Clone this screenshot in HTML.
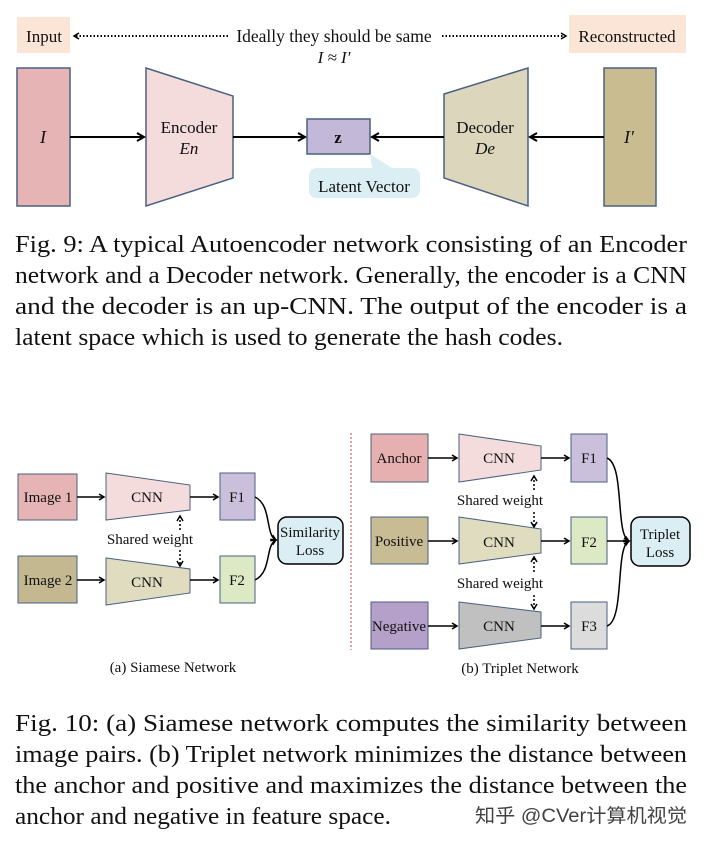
<!DOCTYPE html>
<html><head><meta charset="utf-8"><style>
html,body{margin:0;padding:0;background:#fff;}
svg{display:block}
text{font-family:"Liberation Serif",serif;fill:#111}
</style></head><body>
<svg width="704" height="842" viewBox="0 0 704 842" xmlns="http://www.w3.org/2000/svg">
<defs>
<marker id="ah" markerWidth="10" markerHeight="10" refX="8" refY="5" orient="auto" markerUnits="userSpaceOnUse">
<path d="M1,1 L8,5 L1,9" fill="none" stroke="#000" stroke-width="2"/></marker>
<marker id="ahs" markerWidth="8" markerHeight="8" refX="6" refY="4" orient="auto" markerUnits="userSpaceOnUse">
<path d="M1,1 L6,4 L1,7" fill="none" stroke="#000" stroke-width="1.5"/></marker>
</defs>
<!-- Fig 9 -->
<rect x="17" y="17" width="53" height="36" fill="#fbe5d6"/>
<text x="44" y="42" font-size="17" text-anchor="middle">Input</text>
<rect x="569" y="15" width="117" height="38" fill="#fbe5d6"/>
<text x="627" y="42" font-size="17" text-anchor="middle">Reconstructed</text>
<line x1="228" y1="36" x2="74" y2="36" stroke="#000" stroke-width="2" stroke-dasharray="1.5,2" marker-end="url(#ahs)"/>
<line x1="442" y1="36" x2="566" y2="36" stroke="#000" stroke-width="2" stroke-dasharray="1.5,2" marker-end="url(#ahs)"/>
<text x="334" y="42" font-size="17.5" text-anchor="middle">Ideally they should be same</text>
<text x="334" y="63" font-size="17" font-style="italic" text-anchor="middle">I ≈ I′</text>
<rect x="17" y="68" width="53" height="138" fill="#e6b4b4" stroke="#4a6080" stroke-width="1.5"/>
<text x="43" y="143" font-size="18" font-style="italic" text-anchor="middle">I</text>
<polygon points="146,68 233,96 233,178 146,206" fill="#f5dcdc" stroke="#4a6080" stroke-width="1.5"/>
<text x="189" y="133" font-size="17" text-anchor="middle">Encoder</text>
<text x="189" y="154" font-size="17" font-style="italic" text-anchor="middle">En</text>
<rect x="307" y="119" width="63" height="35" fill="#c4b8d8" stroke="#4a6080" stroke-width="1.5"/>
<text x="338" y="143" font-size="17" font-weight="bold" text-anchor="middle">z</text>
<path d="M370,154 L392,168 L410,168 Q420,168 420,176 L420,190 Q420,198 410,198 L318,198 Q309,198 309,190 L309,176 Q309,168 318,168 L372,168 Z" fill="#dbeef4"/>
<text x="364" y="192" font-size="17" text-anchor="middle">Latent  Vector</text>
<polygon points="444,94 528,68 528,206 444,178" fill="#dcd6bc" stroke="#4a6080" stroke-width="1.5"/>
<text x="485" y="133" font-size="17" text-anchor="middle">Decoder</text>
<text x="485" y="154" font-size="17" font-style="italic" text-anchor="middle">De</text>
<rect x="604" y="68" width="52" height="138" fill="#c8bc90" stroke="#4a6080" stroke-width="1.5"/>
<text x="629" y="143" font-size="18" font-style="italic" text-anchor="middle">I′</text>
<g stroke="#000" stroke-width="2" marker-end="url(#ah)">
<line x1="70" y1="137" x2="144" y2="137"/>
<line x1="233" y1="137" x2="305" y2="137"/>
<line x1="444" y1="137" x2="372" y2="137"/>
<line x1="604" y1="137" x2="530" y2="137"/>
</g>
<g font-size="24">
<text x="15" y="252" textLength="672" lengthAdjust="spacingAndGlyphs">Fig. 9: A typical Autoencoder network consisting of an Encoder</text>
<text x="15" y="283" textLength="672" lengthAdjust="spacingAndGlyphs">network and a Decoder network. Generally, the encoder is a CNN</text>
<text x="15" y="314" textLength="672" lengthAdjust="spacingAndGlyphs">and the decoder is an up-CNN. The output of the encoder is a</text>
<text x="15" y="345" textLength="548" lengthAdjust="spacingAndGlyphs">latent space which is used to generate the hash codes.</text>
</g>
<!-- Fig 10 (a) -->
<g stroke="#4a6080" stroke-width="1">
<rect x="18" y="474" width="59" height="46" fill="#e6b4b4"/>
<rect x="18" y="556" width="59" height="47" fill="#c4b890"/>
<polygon points="106,473 190,485 190,510 106,520" fill="#f5dcdc"/>
<polygon points="106,558 190,569 190,593 106,605" fill="#e0dcc0"/>
<rect x="220" y="473" width="35" height="47" fill="#cbc0dc"/>
<rect x="220" y="556" width="35" height="47" fill="#dde8c4"/>
</g>
<rect x="278" y="517" width="65" height="47" rx="9" fill="#dbeef4" stroke="#000" stroke-width="1.5"/>
<g font-size="15" text-anchor="middle">
<text x="48" y="502">Image 1</text>
<text x="48" y="585">Image 2</text>
<text x="147" y="502">CNN</text>
<text x="147" y="587">CNN</text>
<text x="237" y="502">F1</text>
<text x="237" y="585">F2</text>
<text x="310" y="537">Similarity</text>
<text x="310" y="555">Loss</text>
<text x="150" y="544">Shared weight</text>
<text x="173" y="672">(a) Siamese Network</text>
</g>
<g stroke="#000" stroke-width="1.5" marker-end="url(#ahs)">
<line x1="77" y1="497" x2="104" y2="497"/>
<line x1="77" y1="580" x2="104" y2="580"/>
<line x1="190" y1="497" x2="218" y2="497"/>
<line x1="190" y1="580" x2="218" y2="580"/>
<path d="M255,497 C272,505 265,535 276,540" fill="none"/>
<path d="M255,580 C272,572 265,545 276,540" fill="none"/>
<line x1="180" y1="530" x2="180" y2="516" stroke-dasharray="2,2"/>
<line x1="180" y1="550" x2="180" y2="566" stroke-dasharray="2,2"/>
</g>
<line x1="351" y1="433" x2="351" y2="650" stroke="#c04040" stroke-width="1" stroke-dasharray="2,2"/>
<!-- (b) -->
<g stroke="#4a6080" stroke-width="1">
<rect x="371" y="434" width="57" height="48" fill="#e6b0b0"/>
<rect x="371" y="517" width="57" height="47" fill="#c8bc94"/>
<rect x="371" y="602" width="57" height="47" fill="#b4a0c8"/>
<polygon points="459,434 541,446 541,470 459,482" fill="#f5dcdc"/>
<polygon points="459,517 541,529 541,553 459,564" fill="#e0dcc0"/>
<polygon points="459,602 541,612 541,638 459,649" fill="#c0c0c0"/>
<rect x="571" y="434" width="36" height="48" fill="#cbc0dc"/>
<rect x="571" y="517" width="36" height="47" fill="#dde8c4"/>
<rect x="571" y="602" width="36" height="47" fill="#dcdcdc"/>
</g>
<rect x="631" y="517" width="59" height="49" rx="9" fill="#dbeef4" stroke="#000" stroke-width="1.5"/>
<g font-size="15" text-anchor="middle">
<text x="399" y="463">Anchor</text>
<text x="399" y="546">Positive</text>
<text x="399" y="631">Negative</text>
<text x="499" y="463">CNN</text>
<text x="499" y="547">CNN</text>
<text x="499" y="631">CNN</text>
<text x="589" y="463">F1</text>
<text x="589" y="547">F2</text>
<text x="589" y="631">F3</text>
<text x="660" y="539">Triplet</text>
<text x="660" y="557">Loss</text>
<text x="500" y="505">Shared weight</text>
<text x="500" y="588">Shared weight</text>
<text x="520" y="673">(b) Triplet Network</text>
</g>
<g stroke="#000" stroke-width="1.5" marker-end="url(#ahs)">
<line x1="428" y1="458" x2="457" y2="458"/>
<line x1="428" y1="541" x2="457" y2="541"/>
<line x1="428" y1="626" x2="457" y2="626"/>
<line x1="541" y1="458" x2="569" y2="458"/>
<line x1="541" y1="541" x2="569" y2="541"/>
<line x1="541" y1="626" x2="569" y2="626"/>
<path d="M607,458 C625,465 615,535 629,541" fill="none"/>
<line x1="607" y1="541" x2="629" y2="541"/>
<path d="M607,626 C625,620 615,547 629,541" fill="none"/>
<line x1="534" y1="490" x2="534" y2="476" stroke-dasharray="2,2"/>
<line x1="534" y1="512" x2="534" y2="527" stroke-dasharray="2,2"/>
<line x1="534" y1="572" x2="534" y2="557" stroke-dasharray="2,2"/>
<line x1="534" y1="595" x2="534" y2="609" stroke-dasharray="2,2"/>
</g>
<g font-size="24">
<text x="15" y="731" textLength="672" lengthAdjust="spacingAndGlyphs">Fig. 10: (a) Siamese network computes the similarity between</text>
<text x="15" y="762" textLength="672" lengthAdjust="spacingAndGlyphs">image pairs. (b) Triplet network minimizes the distance between</text>
<text x="15" y="793" textLength="672" lengthAdjust="spacingAndGlyphs">the anchor and positive and maximizes the distance between the</text>
<text x="15" y="824" textLength="376" lengthAdjust="spacingAndGlyphs">anchor and negative in feature space.</text>
</g>
<text x="475" y="822" font-size="19" textLength="212" lengthAdjust="spacingAndGlyphs" style="font-family:'Liberation Sans','Noto Sans CJK SC',sans-serif" fill="#999" opacity="0.8">知乎 @CVer计算机视觉</text>
</svg>
</body></html>
